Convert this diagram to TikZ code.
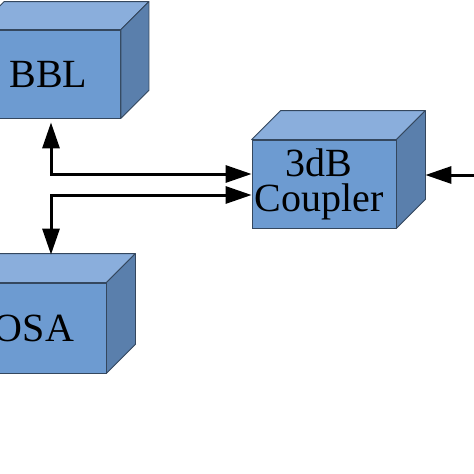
\documentclass[tikz,border=0pt]{standalone}
\usepackage{fontspec}
\setmainfont{Liberation Serif}
\usetikzlibrary{arrows.meta}
\definecolor{frontc}{HTML}{6D9BD1}
\definecolor{topc}{HTML}{8AAEDC}
\definecolor{sidec}{HTML}{5A7FAC}
\definecolor{edgec}{HTML}{34475E}
\tikzset{
  cubefront/.style={draw=edgec, line width=0.8pt, fill=frontc, minimum width=144pt, minimum height=88pt,
     inner sep=0pt, align=center, font=\fontsize{40}{35}\selectfont},
  topface/.style={draw=edgec, line width=0.8pt, fill=topc, line join=round},
  sideface/.style={draw=edgec, line width=0.8pt, fill=sidec, line join=round},
  conn/.style={line width=3pt, black, arrows={-Triangle[length=26pt,width=17pt]}},
  conn2/.style={line width=3pt, black, arrows={Triangle[length=26pt,width=17pt]-Triangle[length=26pt,width=17pt]}},
}
\newcommand\cubesides[2]{%
  \filldraw[topface] (#1.north west) -- ++(#2,-#2) -- ([shift={(#2,-#2)}]#1.north east) -- (#1.north east) -- cycle;
  \filldraw[sideface] (#1.north east) -- ([shift={(#2,-#2)}]#1.north east) -- ([shift={(#2,-#2)}]#1.south east) -- (#1.south east) -- cycle;
}
\begin{document}
\begin{tikzpicture}[x=1pt,y=-1pt]
\useasboundingbox (0,0) rectangle (474,474);
\clip (0,0) rectangle (474,474);
\fill[white] (0,0) rectangle (474,474);
\node[cubefront] (bbl) at (48.5,74) {BBL};
\cubesides{bbl}{28}
\node[cubefront] (cpl) at (324,184) {3dB\hspace*{10pt}\\Coupler\hspace*{10pt}};
\cubesides{cpl}{29}
\node[cubefront, minimum height=90pt] (osa) at (34,328) {OSA};
\cubesides{osa}{29}
\coordinate (j1) at (51,174);
\coordinate (j2) at (51,195);
\coordinate (inp) at (480,175);
\coordinate (bblend) at ([yshift=-4pt]bbl.south -| j1);
\coordinate (osaend) at ([yshift=28pt]osa.north -| j2);
\draw[conn2] (bblend) -- (j1) -- (cpl.west |- j1);
\draw[conn2] (osaend) -- (j2) -- (cpl.west |- j2);
\draw[conn] (inp) -- ([xshift=29pt]cpl.east |- inp);
\end{tikzpicture}
\end{document}
